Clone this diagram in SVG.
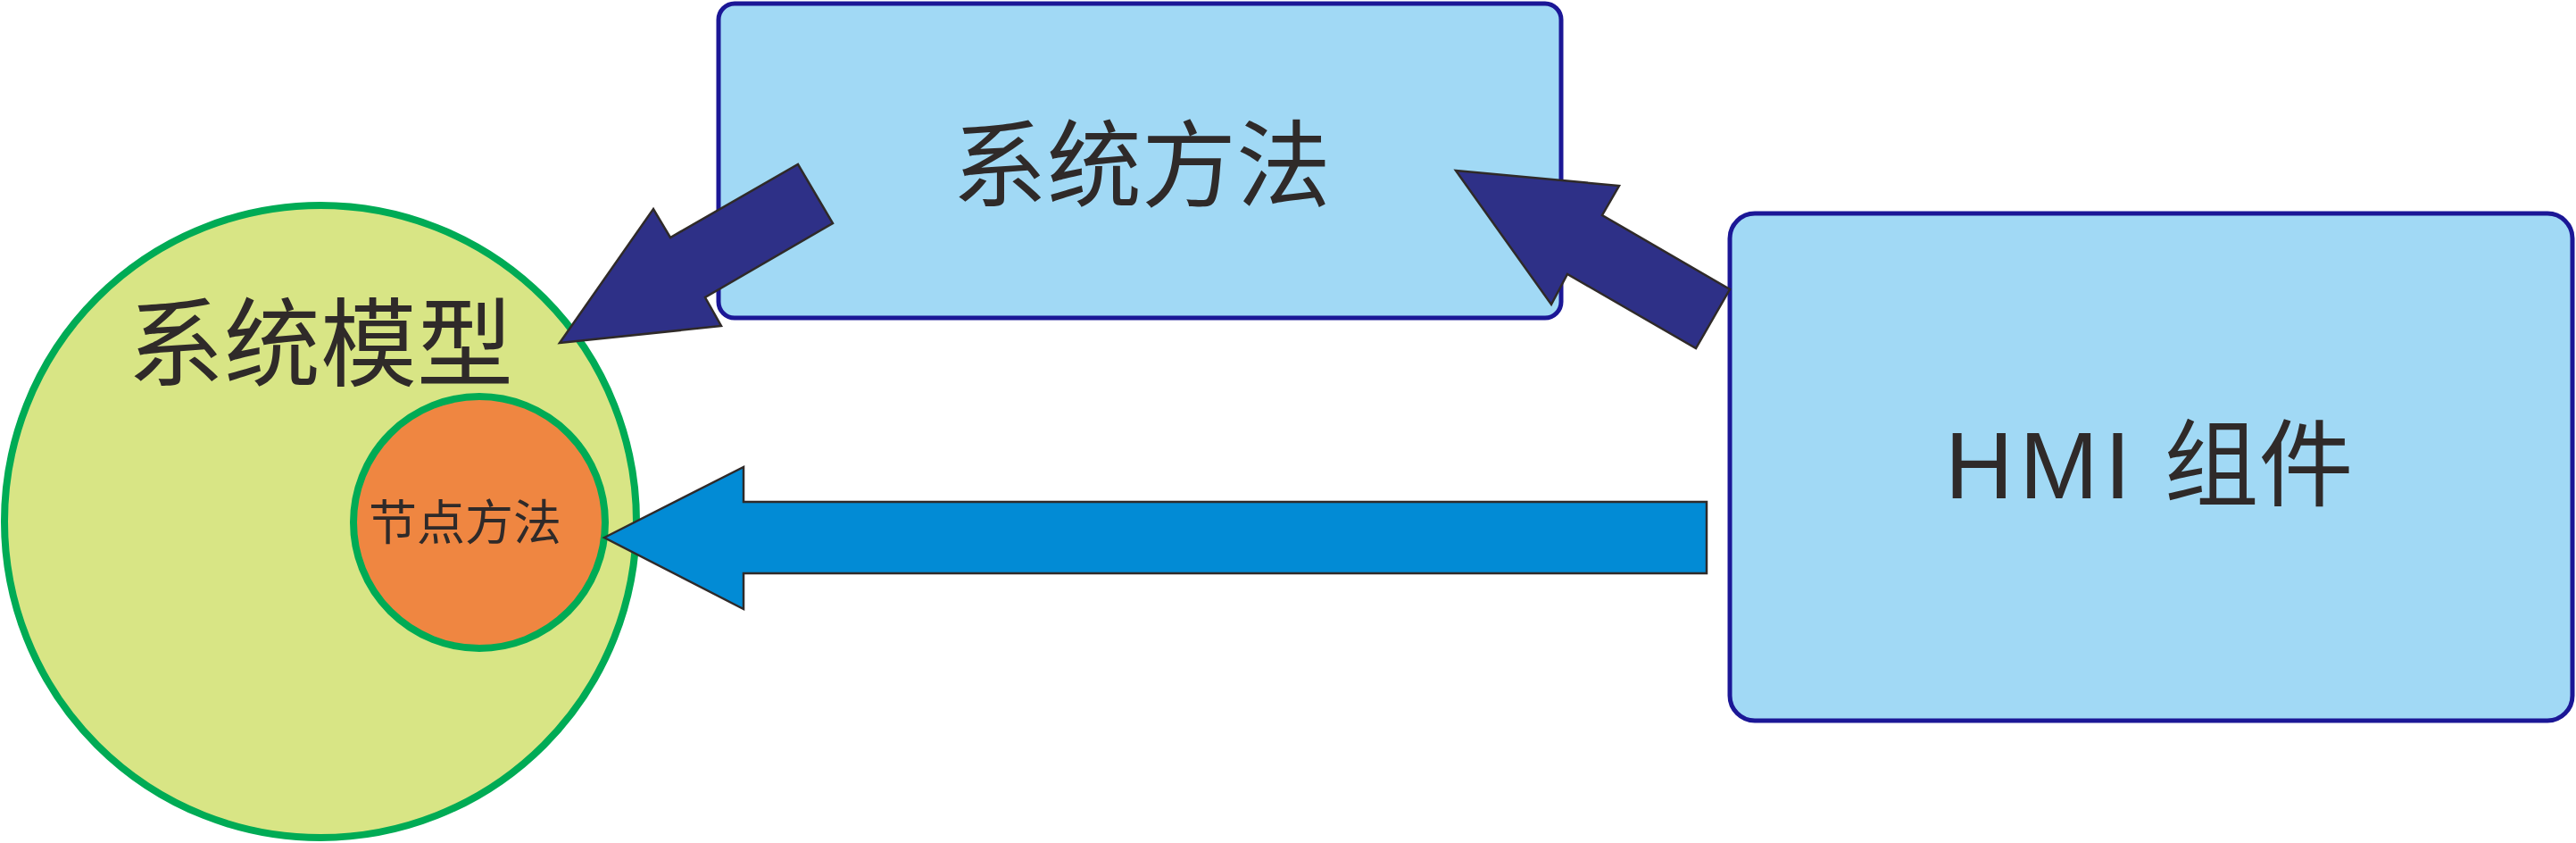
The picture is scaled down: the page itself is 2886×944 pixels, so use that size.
<svg xmlns="http://www.w3.org/2000/svg" width="2886" height="944" viewBox="0 0 2886 944">
<style>
.box{fill:#a1d9f5;stroke:#1b1796;stroke-width:5}
.circ{stroke:#00ab55;stroke-width:8}
.lbl{font-family:'Liberation Sans','Noto Sans CJK SC',sans-serif;fill:#2f2a29;text-anchor:middle}
.navy{fill:#2e3087;stroke:#2f2a29;stroke-width:2.5;stroke-linejoin:miter}
.blue{fill:#028bd5;stroke:#2f2a29;stroke-width:2.5;stroke-linejoin:miter}
</style>
<rect width="2886" height="944" fill="#ffffff"/>
<g id="system-model">
<circle class="circ" cx="359" cy="584" r="354" fill="#d8e585"/>
<text class="lbl" x="359" y="424" font-size="108">系统模型</text>
</g>
<g id="node-method">
<circle class="circ" cx="537" cy="585" r="141" fill="#ef8641"/>
<text class="lbl" x="521" y="605" font-size="54">节点方法</text>
</g>
<g id="system-method">
<rect class="box" x="805" y="4" width="944" height="352" rx="18" ry="18"/>
<text class="lbl" x="1279" y="223" font-size="106">系统方法</text>
</g>
<g id="hmi-component">
<rect class="box" x="1938" y="239" width="944" height="568" rx="28" ry="28"/>
<text class="lbl" x="2179" y="558" font-size="106" style="text-anchor:start"><tspan letter-spacing="7">HMI</tspan><tspan x="2395"> 组件</tspan></text>
</g>
<g id="connectors">
<polygon class="navy" points="627,384 732,234 751,266 894,184 933,250 790,333 808,365"/>
<polygon class="navy" points="1631,191 1814,208 1795,241 1938,324 1900,390 1756,307 1738,341"/>
<polygon class="blue" points="677,602 833,523 833,562 1912,562 1912,642 833,642 833,682"/>
</g>
</svg>
